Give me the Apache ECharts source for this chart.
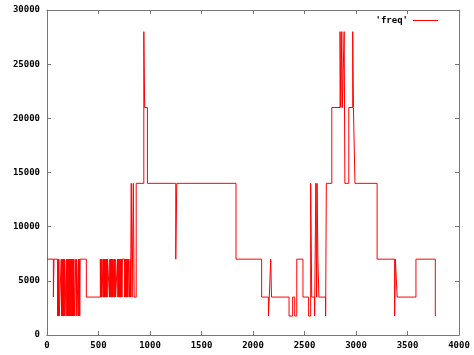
<!DOCTYPE html>
<html>
<head>
<meta charset="utf-8">
<script src="https://cdn.jsdelivr.net/npm/echarts@6/dist/echarts.min.js"></script>
<style>html,body{margin:0;padding:0;background:#fff}#c{width:474px;height:355px}</style>
</head>
<body>
<div id="c"></div>
<script>
var seriesName = "'freq'";
var xTicks = [0, 500, 1000, 1500, 2000, 2500, 3000, 3500, 4000];
var yTicks = [0, 5000, 10000, 15000, 20000, 25000, 30000];
// [time, freq] samples, each value held until the next sample
var startSeg = [[0,7000],[62,3500],[68,7000]];
var burst1 = [[103,1750],[107,7000],[111,1750],[115,7000],[119,1750],[138,7000],[142,1750],[146,7000],[150,1750],[154,7000],
  [158,1750],[162,7000],[166,1750],[170,7000],[174,1750],[188,7000],[192,1750],[196,7000],[200,1750],[204,7000],
  [208,1750],[212,7000],[216,1750],[220,7000],[224,1750],[228,7000],[232,1750],[236,7000],[241,1750],[245,7000],
  [249,1750],[253,7000],[257,1750],[261,7000],[265,1750],[280,7000],[284,1750],[288,7000],[302,1750],[306,7000],
  [310,1750],[314,7000],[318,1750],[322,7000]];
var midSeg = [[382,3500]];
var burst2 = [[518,7000],[522,3500],[526,7000],[530,3500],[534,7000],[544,3500],[548,7000],[552,3500],[556,7000],[560,3500],
  [564,7000],[568,3500],[572,7000],[576,3500],[580,7000],[584,3500],[588,7000],[606,3500],[610,7000],[614,3500],
  [618,7000],[622,3500],[626,7000],[630,3500],[634,7000],[638,3500],[642,7000],[650,3500],[654,7000],[658,3500],
  [662,7000],[666,3500],[684,7000],[688,3500],[692,7000],[696,3500],[700,7000],[704,3500],[708,7000],[712,3500],
  [716,7000],[720,3500],[724,7000],[728,3500],[732,7000],[754,3500],[758,7000],[762,3500],[766,7000],[770,3500],
  [774,7000],[778,3500],[782,7000],[786,3500],[790,7000],[803,3500],[807,7000],[811,3500]];
var restSeg = [[818,14000],[826,3500],[838,14000],[846,3500],[866,14000],[940,28000],[948,21000],[975,14000],
  [1250,7000],[1260,14000],[1835,7000],[2084,3500],[2150,1750],[2158,3500],[2172,7000],[2180,3500],[2350,1750],
  [2385,3500],[2405,1750],[2425,7000],[2485,3500],[2540,1750],[2560,14000],[2570,3500],[2598,1750],[2610,14000],
  [2618,3500],[2622,14000],[2630,7000],[2640,3500],[2705,1750],[2712,14000],[2765,21000],[2845,28000],[2852,21000],
  [2862,28000],[2868,21000],[2885,28000],[2892,14000],[2930,21000],[2968,28000],[2975,21000],[2990,14000],
  [3205,7000],[3375,1750],[3382,7000],[3400,3500],[3582,7000],[3770,1750],[3772,1750]];

var data = startSeg.concat(burst1, midSeg, burst2, restSeg);
var font = { fontFamily: 'DejaVu Sans Mono', fontWeight: 'bold', fontSize: 9, color: '#000' };
var axisLine = { show: true, onZero: false, lineStyle: { color: '#777', width: 1 } };
var tick = { show: true, inside: true, length: 4, lineStyle: { color: '#777' } };
var plain = function (v) { return String(v); };

var chart = echarts.init(document.getElementById('c'), null, { renderer: 'canvas' });
chart.setOption({
  animation: false,
  backgroundColor: '#fff',
  grid: { left: 47, right: 15, top: 10, bottom: 20 },
  legend: {
    data: [seriesName], right: 31, top: 11, align: 'right',
    itemWidth: 25, itemHeight: 1, icon: 'rect', itemGap: 6,
    textStyle: font
  },
  xAxis: [
    { type: 'value', min: xTicks[0], max: xTicks[xTicks.length - 1], interval: 500,
      axisLine: axisLine, axisTick: tick, splitLine: { show: false },
      axisLabel: Object.assign({ margin: 6, formatter: plain }, font) },
    { type: 'value', position: 'top', min: 0, max: 4000, interval: 500,
      axisLine: axisLine, axisTick: tick, splitLine: { show: false }, axisLabel: { show: false } }
  ],
  yAxis: [
    { type: 'value', min: yTicks[0], max: yTicks[yTicks.length - 1], interval: 5000,
      axisLine: axisLine, axisTick: tick, splitLine: { show: false },
      axisLabel: Object.assign({ margin: 7, formatter: plain }, font) },
    { type: 'value', position: 'right', min: 0, max: 30000, interval: 5000,
      axisLine: axisLine, axisTick: tick, splitLine: { show: false }, axisLabel: { show: false } }
  ],
  series: [{
    name: seriesName, type: 'line', step: 'end', showSymbol: false, symbol: 'none',
    data: data, color: '#ff0000',
    lineStyle: { color: '#ff0000', width: 1 }
  }]
});
</script>
</body>
</html>
